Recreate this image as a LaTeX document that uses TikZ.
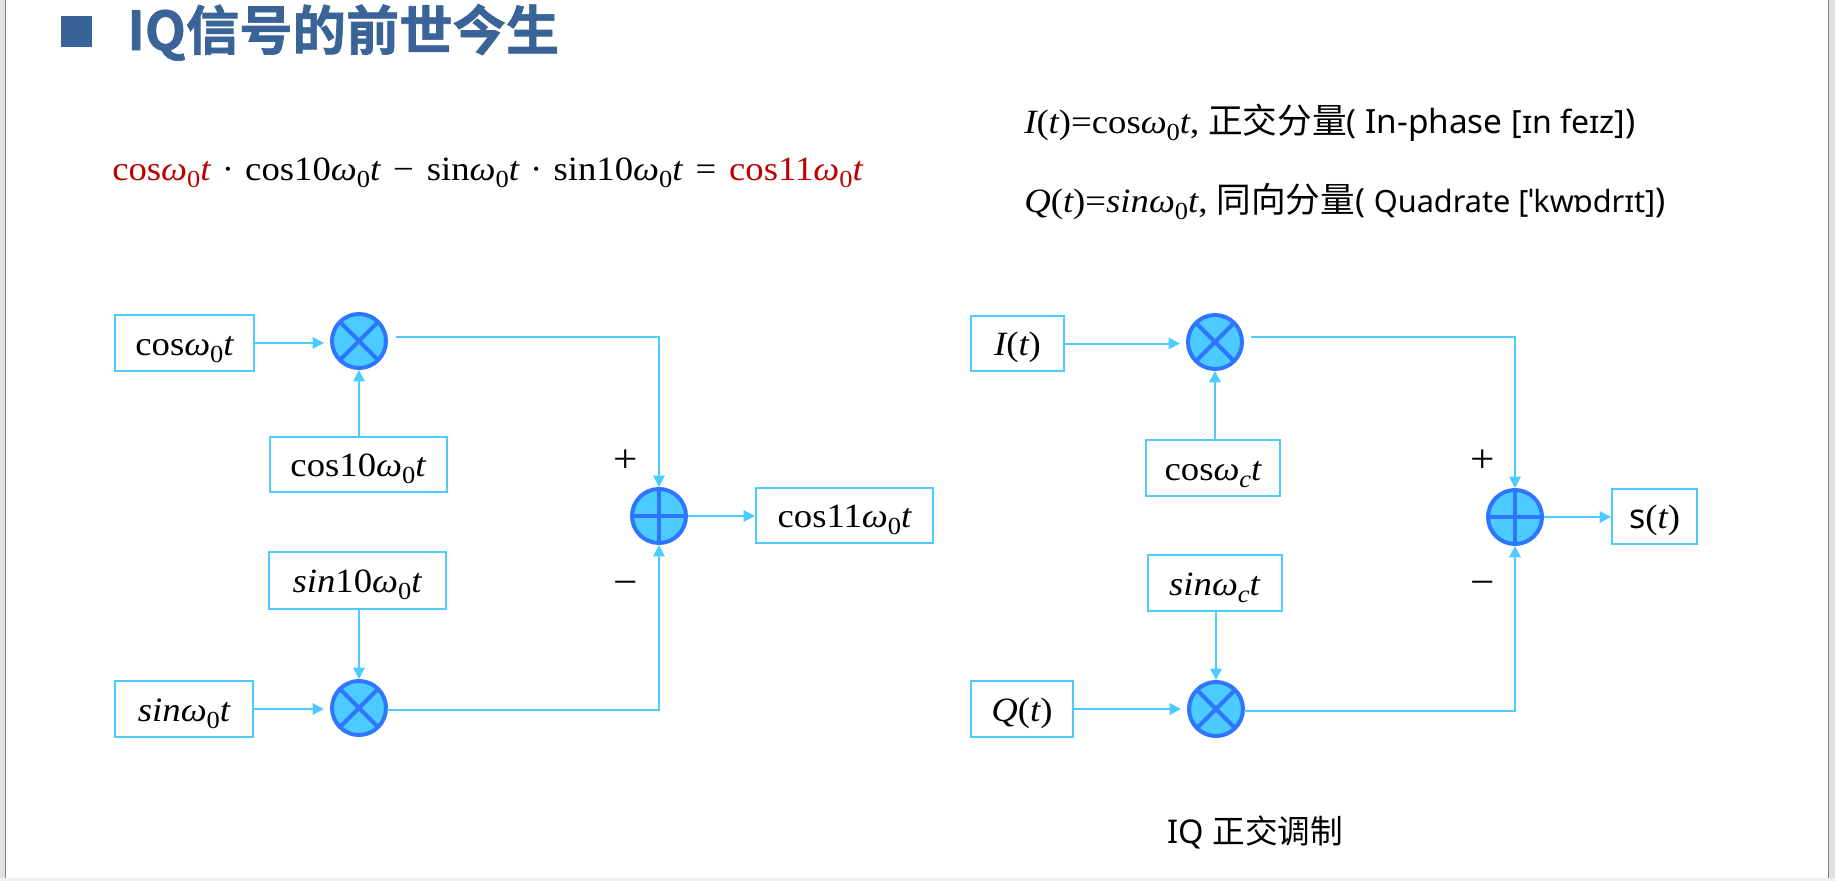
\documentclass[tikz,border=0pt]{standalone}
\usepackage{fontspec}
\usetikzlibrary{arrows.meta,calc}
\setmainfont{Noto Sans}
\newfontfamily\cjk{Noto Sans CJK SC}
\newfontfamily\cjkb[FakeBold=1.2]{Noto Sans CJK SC Bold}
\newfontfamily\mf[FakeStretch=1.08]{Liberation Serif}
\definecolor{lineblue}{HTML}{4BCBFF}
\definecolor{ringblue}{HTML}{2E75FF}
\definecolor{titleblue}{HTML}{3A6398}
\definecolor{eqred}{HTML}{C00000}
\newcommand{\itm}[1]{{\mf\itshape #1}}
\newcommand{\upm}[1]{{\mf #1}}
\newcommand{\lowsub}[1]{\raisebox{-0.22em}{\scalebox{0.72}{\mf #1}}}
\newcommand{\wz}{\itm{ω}\lowsub{0}}
\newcommand{\wc}{\itm{ω}\raisebox{-0.22em}{\scalebox{0.72}{\itm{c}}}}
\newcommand{\tee}{\itm{t}}
\newcommand{\parf}[1]{\upm{(}\itm{#1}\upm{)}}
\tikzset{
  x=0.75pt,y=-0.75pt,
  size/.style 2 args={minimum width=#1*0.75pt,minimum height=#2*0.75pt},
  sigbox/.style={draw=lineblue,line width=1.5pt,fill=white,inner sep=0pt,text height=23pt,text depth=5pt,font=\fontsize{25.5}{28}\selectfont},
  junction/.style={circle,draw=ringblue,line width=3pt,fill=lineblue,inner sep=0pt,minimum size=54*0.75pt},
  mult/.style={junction,path picture={
    \draw[ringblue,line width=3pt] (path picture bounding box.north west)--(path picture bounding box.south east)
      (path picture bounding box.north east)--(path picture bounding box.south west);}},
  summer/.style={junction,path picture={
    \draw[ringblue,line width=3pt] (path picture bounding box.north)--(path picture bounding box.south)
      (path picture bounding box.east)--(path picture bounding box.west);}},
  wire/.style={draw=lineblue,line width=1.5pt,-{Triangle[length=8.5pt,width=8.5pt]}},
  signlab/.style={inner sep=0pt,font=\fontsize{30}{32}\mf},
  txt/.style={inner sep=0pt,anchor=base west},
}
\begin{document}
\begin{tikzpicture}
\useasboundingbox (0,0) rectangle (1835,881);
\fill[white] (0,0) rectangle (1835,881);
\fill[black!12] (0,0) rectangle (5,881);
\fill[black!12] (1829,0) rectangle (1835,881);
\fill[black!6] (0,878) rectangle (1835,881);
\draw[black!50,line width=0.75pt] (5,0)--(5,878);
\draw[black!50,line width=0.75pt] (1828,0)--(1828,878);

% title
\node[fill=titleblue,inner sep=0pt,minimum size=31*0.75pt] (bullet) at (76.5,31.5) {};
\node[txt,text=titleblue] (title) at (127,50) {\fontsize{40}{44}\cjkb IQ信号的前世今生};

% equation
\node[txt] (eq) at (112,180) {\fontsize{25.5}{28}\selectfont\textcolor{eqred}{\upm{cos}\wz\tee}\hspace{0.33em}\upm{·}\hspace{0.33em}\upm{cos10}\wz\tee\hspace{0.38em}\upm{−}\hspace{0.38em}\upm{sin}\wz\tee\hspace{0.33em}\upm{·}\hspace{0.33em}\upm{sin10}\wz\tee\hspace{0.38em}\upm{=}\hspace{0.38em}\textcolor{eqred}{\upm{cos11}\wz\tee}};

% right text
\node[txt] (iline) at (1024,133) {\fontsize{25.5}{28}\selectfont\itm{I}\parf{t}\upm{=cos}\wz\tee\upm{,} {\fontsize{26}{28}\cjk 正交分量}{\fontsize{25}{28}\selectfont( In-phase} {\fontsize{24}{28}\selectfont [ɪn feɪz]})};
\node[txt] (qline) at (1024,212) {\fontsize{25.5}{28}\selectfont\itm{Q}\parf{t}\upm{=}\itm{sin}\wz\tee\upm{,} {\fontsize{26}{28}\cjk 同向分量}{\fontsize{25}{28}\selectfont(} {\fontsize{23}{24}\selectfont Quadrate [ˈkwɒdrɪt]})};
\node[txt] (caption) at (1167,843) {\fontsize{24.5}{28}\selectfont IQ {\cjk 正交调制}};

% left diagram
\node[sigbox,size={139}{56}] (b1) at (184.5,343) {\upm{cos}\wz\tee};
\node[sigbox,size={177}{55}] (b2) at (358,464.5) {\upm{cos10}\wz\tee};
\node[sigbox,size={177}{57}] (b3) at (357,580.5) {\itm{sin}\upm{10}\wz\tee};
\node[sigbox,size={138}{56}] (b4) at (184,709) {\itm{sin}\wz\tee};
\node[mult] (m1) at (359,341) {};
\node[mult] (m2) at (359,708) {};
\node[summer] (s1) at (659,516) {};
\node[sigbox,size={177}{55}] (out1) at (844.5,515.5) {\upm{cos11}\wz\tee};
\node[signlab] (p1) at (626,461) {+};
\node[signlab] (n1) at (626,588) {−};
\coordinate (m1o) at (396,337);
\coordinate (m2o) at (387,710);
\draw[wire,shorten >=4.5pt] (b1.east) -- (b1.east -| m1.west);
\draw[wire] (b2.north -| m1.south) -- (m1.south);
\draw[wire] (b3.south -| m2.north) -- (m2.north);
\draw[wire,shorten >=4.5pt] (b4.east) -- (b4.east -| m2.west);
\draw[wire] (m1o) -| (s1.north);
\draw[wire] (m2o) -| (s1.south);
\draw[wire] (s1.east) -- (s1.east -| out1.west);

% right diagram
\node[sigbox,size={93}{55}] (c1) at (1017.5,343.5) {\itm{I}\parf{t}};
\node[sigbox,size={134}{56}] (c2) at (1213,468) {\upm{cos}\wc\tee};
\node[sigbox,size={134}{56}] (c3) at (1214.5,583) {\itm{sin}\wc\tee};
\node[sigbox,size={102}{56}] (c4) at (1022,709) {\itm{Q}\parf{t}};
\node[mult] (m3) at (1215,342) {};
\node[mult] (m4) at (1216,709) {};
\node[summer] (s2) at (1515,517) {};
\node[sigbox,size={85}{55}] (out2) at (1654.5,516) {s\parf{t}};
\node[signlab] (p2) at (1483,461) {+};
\node[signlab] (n2) at (1483,588) {−};
\coordinate (m3o) at (1251,337);
\coordinate (m4o) at (1244,711);
\draw[wire,shorten >=4.5pt] (c1.east) -- (c1.east -| m3.west);
\draw[wire] (c2.north -| m3.south) -- (m3.south);
\draw[wire] (c3.south -| m4.north) -- (m4.north);
\draw[wire,shorten >=4.5pt] (c4.east) -- (c4.east -| m4.west);
\draw[wire] (m3o) -| (s2.north);
\draw[wire] (m4o) -| (s2.south);
\draw[wire] (s2.east) -- (s2.east -| out2.west);
\end{tikzpicture}
\end{document}
